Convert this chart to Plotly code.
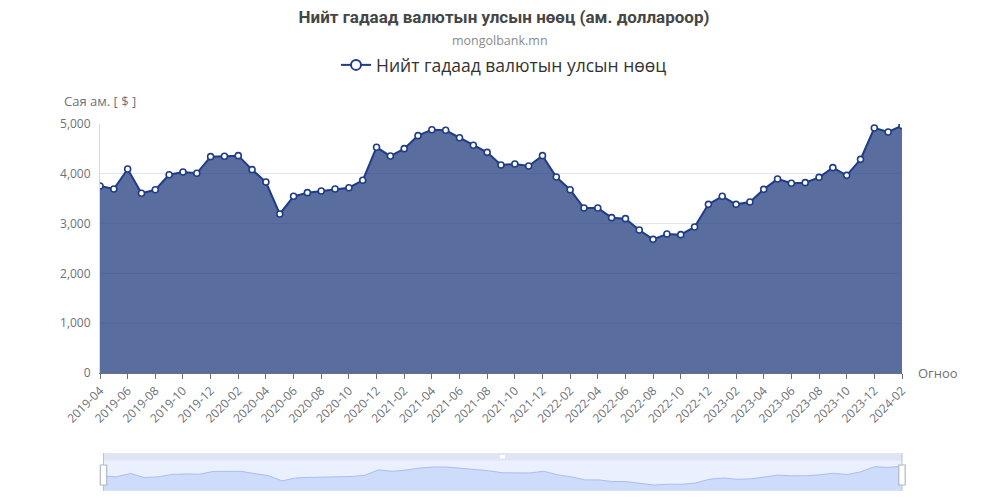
import plotly.graph_objects as go

# months 2019-04 .. 2024-02
months = []
y, m = 2019, 4
while (y, m) <= (2024, 2):
    months.append(f"{y}-{m:02d}")
    m += 1
    if m > 12:
        y, m = y + 1, 1

# reserves, mln USD
reserves = [
    3755, 3695, 4096, 3608, 3680, 3982, 4036, 4010, 4344, 4351,
    4364, 4083, 3835, 3193, 3548, 3621, 3655, 3695, 3721, 3869,
    4532, 4357, 4505, 4766, 4886, 4873, 4725, 4572, 4431, 4177,
    4197, 4157, 4364, 3936, 3681, 3313, 3313, 3119, 3099, 2871,
    2684, 2791, 2778, 2932, 3387, 3548, 3387, 3434, 3688, 3896,
    3809, 3822, 3929, 4123, 3969, 4290, 4920, 4839, 4967,
]

title = "Нийт гадаад валютын улсын нөөц (ам. доллароор)"
subtitle = "mongolbank.mn"
series_name = "Нийт гадаад валютын улсын нөөц"
y_name = "Сая ам. [ $ ]"
x_name = "Огноо"

# the page body has an 8px margin, so the figure is a bit smaller
# and all screen positions below are shifted by it
OFF = 8
W, H = 1000 - OFF, 498 - OFF
AXIS = "#6e7079"
GRID = "#e0e6f1"
LINE = "#1f3c88"


def px_x(v):
    return (v - OFF) / W


def px_y(v):
    return 1 - (v - OFF) / H


fig = go.Figure()

fig.add_trace(go.Scatter(
    x=months, y=reserves, name=series_name, showlegend=False,
    mode="lines+markers",
    line=dict(color=LINE, width=2),
    marker=dict(symbol="circle", size=6, color="white",
                line=dict(color=LINE, width=1.6)),
    fill="tozeroy", fillcolor="rgba(22,50,120,0.71)",
    xaxis="x", yaxis="y",
))

# legend entry only (line + hollow circle, no fill swatch)
fig.add_trace(go.Scatter(
    x=[None], y=[None], name=series_name,
    mode="lines+markers",
    line=dict(color=LINE, width=2),
    marker=dict(symbol="circle", size=10, color="white",
                line=dict(color=LINE, width=2)),
    xaxis="x", yaxis="y",
))

# data-zoom style overview at the bottom
lo, hi = min(reserves), max(reserves)
pad = (hi - lo) * 0.3
fig.add_trace(go.Scatter(
    x=months, y=reserves, showlegend=False, hoverinfo="skip",
    mode="lines", line=dict(color="#a9bdf0", width=1),
    fill="tozeroy", fillcolor="rgba(180,204,250,0.55)",
    xaxis="x2", yaxis="y2",
))

n = len(months)
fig.update_layout(
    width=W, height=H,
    margin=dict(l=0, r=0, t=0, b=0, autoexpand=False),
    paper_bgcolor="white", plot_bgcolor="white",
    font=dict(family="Open Sans, Noto Sans, sans-serif", color="#333"),
    title=dict(text=f"<b>{title}</b>", x=0.5, xanchor="center",
               y=px_y(17.5), yanchor="middle", yref="container",
               font=dict(size=17, color="#464646",
                         family="Roboto, Open Sans, sans-serif")),
    showlegend=True,
    legend=dict(orientation="h", x=0.5, xanchor="center",
                y=px_y(65), yanchor="middle",
                font=dict(size=17.5, color="#333"),
                itemwidth=30),
    xaxis=dict(
        domain=[px_x(100), px_x(902)],
        type="category", range=[0, n - 1],
        tickvals=months[::2], ticktext=months[::2],
        tickangle=-45, tickfont=dict(size=12, color=AXIS),
        ticks="outside", ticklen=5, tickcolor=AXIS,
        showline=True, linecolor=AXIS, linewidth=1,
        showgrid=False, zeroline=False,
        anchor="y",
    ),
    yaxis=dict(
        domain=[px_y(373), px_y(124)],
        range=[0, 5000], dtick=1000, tickformat=",",
        tickfont=dict(size=12, color=AXIS),
        showgrid=True, gridcolor=GRID, gridwidth=1,
        showline=True, linecolor="#d5dae4",
        zeroline=False, ticks="", ticklabelstandoff=6,
        anchor="x",
    ),
    xaxis2=dict(
        domain=[px_x(103), px_x(902)],
        type="category", range=[0, n - 1],
        visible=False, anchor="y2",
    ),
    yaxis2=dict(
        domain=[px_y(490.7), px_y(460.7)],
        range=[lo - pad, hi + pad],
        visible=False, anchor="x2",
    ),
)

shapes = [
    # overview background
    dict(type="rect", xref="paper", yref="paper", layer="below",
         x0=px_x(103), x1=px_x(902), y0=px_y(490.7), y1=px_y(460.7),
         fillcolor="#eaf0fd", line=dict(width=0)),
    # overview top bar
    dict(type="rect", xref="paper", yref="paper",
         x0=px_x(103), x1=px_x(902), y0=px_y(460.7), y1=px_y(453),
         fillcolor="#dfe5f2", line=dict(width=0)),
    # edge lines
    dict(type="line", xref="paper", yref="paper",
         x0=px_x(103.5), x1=px_x(103.5), y0=px_y(491), y1=px_y(453),
         line=dict(color="#b8c2d6", width=1)),
    dict(type="line", xref="paper", yref="paper",
         x0=px_x(902), x1=px_x(902), y0=px_y(491), y1=px_y(453),
         line=dict(color="#b8c2d6", width=1)),
    # grip on top bar
    dict(type="rect", xref="paper", yref="paper",
         x0=px_x(500), x1=px_x(505), y0=px_y(458.5), y1=px_y(455),
         fillcolor="white", line=dict(width=0)),
]
for hx in (103.5, 902):
    shapes.append(dict(
        type="rect", xref="paper", yref="paper",
        x0=px_x(hx - 3.2), x1=px_x(hx + 3.2), y0=px_y(485), y1=px_y(465),
        fillcolor="white", line=dict(color="#b0b8c8", width=1.2)))
fig.update_layout(shapes=shapes)

fig.add_annotation(text=subtitle, xref="paper", yref="paper",
                   x=px_x(500), y=px_y(40), xanchor="center",
                   yanchor="middle", showarrow=False,
                   font=dict(size=12.5, color="#8a8a8a"))
fig.add_annotation(text=y_name, xref="paper", yref="paper",
                   x=px_x(100), y=px_y(101.5), xanchor="center",
                   yanchor="middle", showarrow=False,
                   font=dict(size=13, color=AXIS))
fig.add_annotation(text=x_name, xref="paper", yref="paper",
                   x=px_x(916), y=px_y(373), xanchor="left",
                   yanchor="middle", showarrow=False,
                   font=dict(size=13, color=AXIS))

fig.write_html("out.html")
